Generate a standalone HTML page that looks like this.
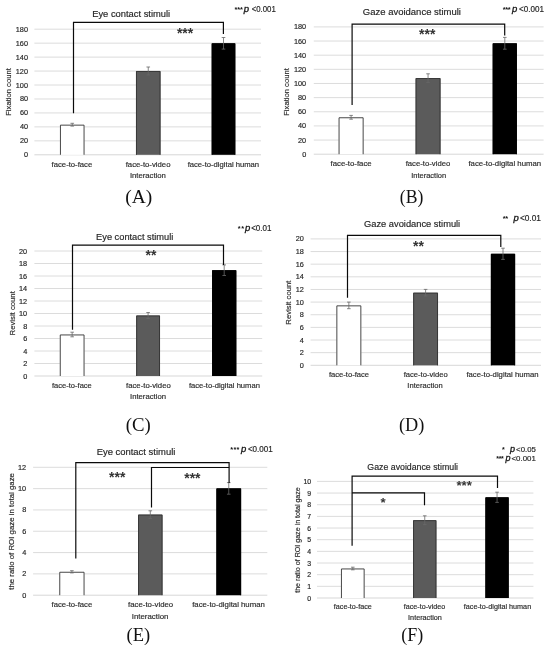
<!DOCTYPE html>
<html lang="en"><head><meta charset="utf-8"><title>Figure</title>
<style>
html,body{margin:0;padding:0;background:#fff;}
svg{display:block;font-family:"Liberation Sans", Arial, sans-serif;}
text{stroke:#333;stroke-width:0.18px;}
.ns,.ns tspan{stroke:none;}
</style></head><body>
<svg width="550" height="651" viewBox="0 0 550 651">
<rect width="550" height="651" fill="#ffffff"/>
<line x1="34.4" y1="154.80" x2="261" y2="154.80" stroke="#d2d2d2" stroke-width="0.9"/>
<text x="28" y="157.30" font-size="7.3" text-anchor="end" fill="#222">0</text>
<line x1="34.4" y1="140.84" x2="261" y2="140.84" stroke="#d8d8d8" stroke-width="0.9"/>
<text x="28" y="143.34" font-size="7.3" text-anchor="end" fill="#222">20</text>
<line x1="34.4" y1="126.89" x2="261" y2="126.89" stroke="#d8d8d8" stroke-width="0.9"/>
<text x="28" y="129.39" font-size="7.3" text-anchor="end" fill="#222">40</text>
<line x1="34.4" y1="112.93" x2="261" y2="112.93" stroke="#d8d8d8" stroke-width="0.9"/>
<text x="28" y="115.43" font-size="7.3" text-anchor="end" fill="#222">60</text>
<line x1="34.4" y1="98.98" x2="261" y2="98.98" stroke="#d8d8d8" stroke-width="0.9"/>
<text x="28" y="101.48" font-size="7.3" text-anchor="end" fill="#222">80</text>
<line x1="34.4" y1="85.02" x2="261" y2="85.02" stroke="#d8d8d8" stroke-width="0.9"/>
<text x="28" y="87.52" font-size="7.3" text-anchor="end" fill="#222">100</text>
<line x1="34.4" y1="71.07" x2="261" y2="71.07" stroke="#d8d8d8" stroke-width="0.9"/>
<text x="28" y="73.57" font-size="7.3" text-anchor="end" fill="#222">120</text>
<line x1="34.4" y1="57.11" x2="261" y2="57.11" stroke="#d8d8d8" stroke-width="0.9"/>
<text x="28" y="59.61" font-size="7.3" text-anchor="end" fill="#222">140</text>
<line x1="34.4" y1="43.16" x2="261" y2="43.16" stroke="#d8d8d8" stroke-width="0.9"/>
<text x="28" y="45.66" font-size="7.3" text-anchor="end" fill="#222">160</text>
<line x1="34.4" y1="29.20" x2="261" y2="29.20" stroke="#d8d8d8" stroke-width="0.9"/>
<text x="28" y="31.70" font-size="7.3" text-anchor="end" fill="#222">180</text>
<rect x="60.00" y="124.70" width="24.50" height="30.10" fill="#ffffff"/>
<path d="M60.45 154.80V125.15H84.05V154.80" fill="none" stroke="#333333" stroke-width="0.9"/>
<path d="M72.25 123.30V126.10M70.45 123.30H74.05M70.45 126.10H74.05" stroke="#686868" stroke-width="0.8" fill="none"/>
<rect x="136.00" y="71.00" width="24.50" height="83.80" fill="#5b5b5b"/>
<path d="M136.45 154.80V71.45H160.05V154.80" fill="none" stroke="#333333" stroke-width="0.9"/>
<path d="M148.25 67.00V75.00M146.45 67.00H150.05M146.45 75.00H150.05" stroke="#686868" stroke-width="0.8" fill="none"/>
<rect x="211.70" y="43.30" width="23.60" height="111.50" fill="#000000"/>
<path d="M212.15 154.80V43.75H234.85V154.80" fill="none" stroke="#000000" stroke-width="0.9"/>
<path d="M223.50 37.50V49.10M221.70 37.50H225.30M221.70 49.10H225.30" stroke="#686868" stroke-width="0.8" fill="none"/>
<path d="M73.5 113.2V22.3H223.4V34" stroke="#0a0a0a" stroke-width="1.2" fill="none" stroke-linejoin="miter"/>
<text x="185.1" y="37.6" font-size="14" text-anchor="middle" fill="#333" font-weight="bold" class="ns">***</text>
<text x="131.2" y="17.2" font-size="9.4" text-anchor="middle" fill="#222" textLength="78" lengthAdjust="spacingAndGlyphs">Eye contact stimuli</text>
<text x="71.9" y="166.7" font-size="7.7" text-anchor="middle" fill="#2a2a2a" textLength="40.6" lengthAdjust="spacingAndGlyphs">face-to-face</text>
<text x="148.1" y="166.7" font-size="7.7" text-anchor="middle" fill="#2a2a2a" textLength="44.8" lengthAdjust="spacingAndGlyphs">face-to-video</text>
<text x="223.4" y="166.7" font-size="7.7" text-anchor="middle" fill="#2a2a2a" textLength="71.5" lengthAdjust="spacingAndGlyphs">face-to-digital human</text>
<text x="147.9" y="177.9" font-size="7.7" text-anchor="middle" fill="#2a2a2a" textLength="36" lengthAdjust="spacingAndGlyphs">Interaction</text>
<text transform="translate(10.5 92) rotate(-90)" font-size="7.6" text-anchor="middle" fill="#2a2a2a" textLength="47.6" lengthAdjust="spacingAndGlyphs">Fixation count</text>
<text x="234.50" y="11.6" font-size="7.4" font-weight="bold" fill="#111" class="ns" textLength="8.30" lengthAdjust="spacing">***</text>
<text x="246.40" y="11.6" font-size="9.5" text-anchor="middle" font-style="italic" fill="#111" style="stroke:#111;stroke-width:0.3px">p</text>
<text x="251.70" y="11.6" font-size="8.2" fill="#222" textLength="24.10" lengthAdjust="spacingAndGlyphs">&lt;0.001</text>
<text x="138.7" y="202.6" font-size="18.8" text-anchor="middle" fill="#111" font-family='"Liberation Serif", "DejaVu Serif", serif' textLength="27" lengthAdjust="spacingAndGlyphs" class="ns">(A)</text>
<line x1="313.8" y1="154.20" x2="543.6" y2="154.20" stroke="#d2d2d2" stroke-width="0.9"/>
<text x="306.2" y="156.70" font-size="7.3" text-anchor="end" fill="#222">0</text>
<line x1="313.8" y1="140.06" x2="543.6" y2="140.06" stroke="#d8d8d8" stroke-width="0.9"/>
<text x="306.2" y="142.56" font-size="7.3" text-anchor="end" fill="#222">20</text>
<line x1="313.8" y1="125.91" x2="543.6" y2="125.91" stroke="#d8d8d8" stroke-width="0.9"/>
<text x="306.2" y="128.41" font-size="7.3" text-anchor="end" fill="#222">40</text>
<line x1="313.8" y1="111.77" x2="543.6" y2="111.77" stroke="#d8d8d8" stroke-width="0.9"/>
<text x="306.2" y="114.27" font-size="7.3" text-anchor="end" fill="#222">60</text>
<line x1="313.8" y1="97.62" x2="543.6" y2="97.62" stroke="#d8d8d8" stroke-width="0.9"/>
<text x="306.2" y="100.12" font-size="7.3" text-anchor="end" fill="#222">80</text>
<line x1="313.8" y1="83.48" x2="543.6" y2="83.48" stroke="#d8d8d8" stroke-width="0.9"/>
<text x="306.2" y="85.98" font-size="7.3" text-anchor="end" fill="#222">100</text>
<line x1="313.8" y1="69.33" x2="543.6" y2="69.33" stroke="#d8d8d8" stroke-width="0.9"/>
<text x="306.2" y="71.83" font-size="7.3" text-anchor="end" fill="#222">120</text>
<line x1="313.8" y1="55.19" x2="543.6" y2="55.19" stroke="#d8d8d8" stroke-width="0.9"/>
<text x="306.2" y="57.69" font-size="7.3" text-anchor="end" fill="#222">140</text>
<line x1="313.8" y1="41.04" x2="543.6" y2="41.04" stroke="#d8d8d8" stroke-width="0.9"/>
<text x="306.2" y="43.54" font-size="7.3" text-anchor="end" fill="#222">160</text>
<line x1="313.8" y1="26.90" x2="543.6" y2="26.90" stroke="#d8d8d8" stroke-width="0.9"/>
<text x="306.2" y="29.40" font-size="7.3" text-anchor="end" fill="#222">180</text>
<rect x="338.60" y="117.30" width="25.00" height="36.90" fill="#ffffff"/>
<path d="M339.05 154.20V117.75H363.15V154.20" fill="none" stroke="#333333" stroke-width="0.9"/>
<path d="M351.10 115.40V119.20M349.30 115.40H352.90M349.30 119.20H352.90" stroke="#686868" stroke-width="0.8" fill="none"/>
<rect x="415.60" y="78.10" width="24.90" height="76.10" fill="#5b5b5b"/>
<path d="M416.05 154.20V78.55H440.05V154.20" fill="none" stroke="#333333" stroke-width="0.9"/>
<path d="M428.05 73.80V82.40M426.25 73.80H429.85M426.25 82.40H429.85" stroke="#686868" stroke-width="0.8" fill="none"/>
<rect x="492.70" y="43.30" width="24.20" height="110.90" fill="#000000"/>
<path d="M493.15 154.20V43.75H516.45V154.20" fill="none" stroke="#000000" stroke-width="0.9"/>
<path d="M504.80 37.40V49.20M503.00 37.40H506.60M503.00 49.20H506.60" stroke="#686868" stroke-width="0.8" fill="none"/>
<path d="M352.1 105V24.2H504.7V35.6" stroke="#0a0a0a" stroke-width="1.2" fill="none" stroke-linejoin="miter"/>
<text x="427.2" y="39.2" font-size="14" text-anchor="middle" fill="#333" font-weight="bold" class="ns">***</text>
<text x="411.9" y="14.6" font-size="9.4" text-anchor="middle" fill="#222" textLength="98.1" lengthAdjust="spacingAndGlyphs">Gaze avoidance stimuli</text>
<text x="351.1" y="166.2" font-size="7.7" text-anchor="middle" fill="#2a2a2a" textLength="41.2" lengthAdjust="spacingAndGlyphs">face-to-face</text>
<text x="428" y="166.2" font-size="7.7" text-anchor="middle" fill="#2a2a2a" textLength="44.6" lengthAdjust="spacingAndGlyphs">face-to-video</text>
<text x="504.8" y="166.2" font-size="7.7" text-anchor="middle" fill="#2a2a2a" textLength="72.7" lengthAdjust="spacingAndGlyphs">face-to-digital human</text>
<text x="428.7" y="177.6" font-size="7.7" text-anchor="middle" fill="#2a2a2a" textLength="35" lengthAdjust="spacingAndGlyphs">Interaction</text>
<text transform="translate(288.8 92) rotate(-90)" font-size="7.6" text-anchor="middle" fill="#2a2a2a" textLength="47.6" lengthAdjust="spacingAndGlyphs">Fixation count</text>
<text x="502.70" y="11.5" font-size="7.4" font-weight="bold" fill="#111" class="ns" textLength="8.00" lengthAdjust="spacing">***</text>
<text x="514.75" y="11.5" font-size="9.5" text-anchor="middle" font-style="italic" fill="#111" style="stroke:#111;stroke-width:0.3px">p</text>
<text x="519.10" y="11.5" font-size="8.2" fill="#222" textLength="24.90" lengthAdjust="spacingAndGlyphs">&lt;0.001</text>
<text x="411.6" y="202.6" font-size="18.8" text-anchor="middle" fill="#111" font-family='"Liberation Serif", "DejaVu Serif", serif' textLength="23.5" lengthAdjust="spacingAndGlyphs" class="ns">(B)</text>
<line x1="34.4" y1="376.00" x2="262.2" y2="376.00" stroke="#d2d2d2" stroke-width="0.9"/>
<text x="27.2" y="378.50" font-size="7.3" text-anchor="end" fill="#222">0</text>
<line x1="34.4" y1="363.50" x2="262.2" y2="363.50" stroke="#d8d8d8" stroke-width="0.9"/>
<text x="27.2" y="366.00" font-size="7.3" text-anchor="end" fill="#222">2</text>
<line x1="34.4" y1="351.00" x2="262.2" y2="351.00" stroke="#d8d8d8" stroke-width="0.9"/>
<text x="27.2" y="353.50" font-size="7.3" text-anchor="end" fill="#222">4</text>
<line x1="34.4" y1="338.50" x2="262.2" y2="338.50" stroke="#d8d8d8" stroke-width="0.9"/>
<text x="27.2" y="341.00" font-size="7.3" text-anchor="end" fill="#222">6</text>
<line x1="34.4" y1="326.00" x2="262.2" y2="326.00" stroke="#d8d8d8" stroke-width="0.9"/>
<text x="27.2" y="328.50" font-size="7.3" text-anchor="end" fill="#222">8</text>
<line x1="34.4" y1="313.50" x2="262.2" y2="313.50" stroke="#d8d8d8" stroke-width="0.9"/>
<text x="27.2" y="316.00" font-size="7.3" text-anchor="end" fill="#222">10</text>
<line x1="34.4" y1="301.00" x2="262.2" y2="301.00" stroke="#d8d8d8" stroke-width="0.9"/>
<text x="27.2" y="303.50" font-size="7.3" text-anchor="end" fill="#222">12</text>
<line x1="34.4" y1="288.50" x2="262.2" y2="288.50" stroke="#d8d8d8" stroke-width="0.9"/>
<text x="27.2" y="291.00" font-size="7.3" text-anchor="end" fill="#222">14</text>
<line x1="34.4" y1="276.00" x2="262.2" y2="276.00" stroke="#d8d8d8" stroke-width="0.9"/>
<text x="27.2" y="278.50" font-size="7.3" text-anchor="end" fill="#222">16</text>
<line x1="34.4" y1="263.50" x2="262.2" y2="263.50" stroke="#d8d8d8" stroke-width="0.9"/>
<text x="27.2" y="266.00" font-size="7.3" text-anchor="end" fill="#222">18</text>
<line x1="34.4" y1="251.00" x2="262.2" y2="251.00" stroke="#d8d8d8" stroke-width="0.9"/>
<text x="27.2" y="253.50" font-size="7.3" text-anchor="end" fill="#222">20</text>
<rect x="59.80" y="334.50" width="24.70" height="41.50" fill="#ffffff"/>
<path d="M60.25 376.00V334.95H84.05V376.00" fill="none" stroke="#333333" stroke-width="0.9"/>
<path d="M72.15 332.20V336.80M70.35 332.20H73.95M70.35 336.80H73.95" stroke="#686868" stroke-width="0.8" fill="none"/>
<rect x="136.20" y="315.50" width="23.80" height="60.50" fill="#5b5b5b"/>
<path d="M136.65 376.00V315.95H159.55V376.00" fill="none" stroke="#333333" stroke-width="0.9"/>
<path d="M148.10 312.50V318.50M146.30 312.50H149.90M146.30 318.50H149.90" stroke="#686868" stroke-width="0.8" fill="none"/>
<rect x="212.10" y="270.20" width="24.20" height="105.80" fill="#000000"/>
<path d="M212.55 376.00V270.65H235.85V376.00" fill="none" stroke="#000000" stroke-width="0.9"/>
<path d="M224.20 264.90V275.50M222.40 264.90H226.00M222.40 275.50H226.00" stroke="#686868" stroke-width="0.8" fill="none"/>
<path d="M72.5 329.7V245.2H223.5V265" stroke="#0a0a0a" stroke-width="1.2" fill="none" stroke-linejoin="miter"/>
<text x="150.9" y="259.8" font-size="14" text-anchor="middle" fill="#333" font-weight="bold" class="ns">**</text>
<text x="134.7" y="239.5" font-size="9.3" text-anchor="middle" fill="#222" textLength="77.2" lengthAdjust="spacingAndGlyphs">Eye contact stimuli</text>
<text x="71.9" y="387.5" font-size="7.7" text-anchor="middle" fill="#2a2a2a" textLength="39.8" lengthAdjust="spacingAndGlyphs">face-to-face</text>
<text x="148.4" y="387.5" font-size="7.7" text-anchor="middle" fill="#2a2a2a" textLength="44.7" lengthAdjust="spacingAndGlyphs">face-to-video</text>
<text x="224.4" y="387.5" font-size="7.7" text-anchor="middle" fill="#2a2a2a" textLength="71" lengthAdjust="spacingAndGlyphs">face-to-digital human</text>
<text x="148" y="398.6" font-size="7.7" text-anchor="middle" fill="#2a2a2a" textLength="36" lengthAdjust="spacingAndGlyphs">Interaction</text>
<text transform="translate(15 313.3) rotate(-90)" font-size="7.6" text-anchor="middle" fill="#2a2a2a" textLength="44.2" lengthAdjust="spacingAndGlyphs">Revisit count</text>
<text x="237.80" y="231" font-size="7.4" font-weight="bold" fill="#111" class="ns" textLength="6.30" lengthAdjust="spacing">**</text>
<text x="247.65" y="231" font-size="9.5" text-anchor="middle" font-style="italic" fill="#111" style="stroke:#111;stroke-width:0.3px">p</text>
<text x="251.20" y="231" font-size="8.2" fill="#222" textLength="20.30" lengthAdjust="spacingAndGlyphs">&lt;0.01</text>
<text x="138.2" y="431" font-size="18.8" text-anchor="middle" fill="#111" font-family='"Liberation Serif", "DejaVu Serif", serif' textLength="25" lengthAdjust="spacingAndGlyphs" class="ns">(C)</text>
<line x1="310.6" y1="365.30" x2="541" y2="365.30" stroke="#d2d2d2" stroke-width="0.9"/>
<text x="303.8" y="367.80" font-size="7.3" text-anchor="end" fill="#222">0</text>
<line x1="310.6" y1="352.66" x2="541" y2="352.66" stroke="#d8d8d8" stroke-width="0.9"/>
<text x="303.8" y="355.16" font-size="7.3" text-anchor="end" fill="#222">2</text>
<line x1="310.6" y1="340.02" x2="541" y2="340.02" stroke="#d8d8d8" stroke-width="0.9"/>
<text x="303.8" y="342.52" font-size="7.3" text-anchor="end" fill="#222">4</text>
<line x1="310.6" y1="327.38" x2="541" y2="327.38" stroke="#d8d8d8" stroke-width="0.9"/>
<text x="303.8" y="329.88" font-size="7.3" text-anchor="end" fill="#222">6</text>
<line x1="310.6" y1="314.74" x2="541" y2="314.74" stroke="#d8d8d8" stroke-width="0.9"/>
<text x="303.8" y="317.24" font-size="7.3" text-anchor="end" fill="#222">8</text>
<line x1="310.6" y1="302.10" x2="541" y2="302.10" stroke="#d8d8d8" stroke-width="0.9"/>
<text x="303.8" y="304.60" font-size="7.3" text-anchor="end" fill="#222">10</text>
<line x1="310.6" y1="289.46" x2="541" y2="289.46" stroke="#d8d8d8" stroke-width="0.9"/>
<text x="303.8" y="291.96" font-size="7.3" text-anchor="end" fill="#222">12</text>
<line x1="310.6" y1="276.82" x2="541" y2="276.82" stroke="#d8d8d8" stroke-width="0.9"/>
<text x="303.8" y="279.32" font-size="7.3" text-anchor="end" fill="#222">14</text>
<line x1="310.6" y1="264.18" x2="541" y2="264.18" stroke="#d8d8d8" stroke-width="0.9"/>
<text x="303.8" y="266.68" font-size="7.3" text-anchor="end" fill="#222">16</text>
<line x1="310.6" y1="251.54" x2="541" y2="251.54" stroke="#d8d8d8" stroke-width="0.9"/>
<text x="303.8" y="254.04" font-size="7.3" text-anchor="end" fill="#222">18</text>
<line x1="310.6" y1="238.90" x2="541" y2="238.90" stroke="#d8d8d8" stroke-width="0.9"/>
<text x="303.8" y="241.40" font-size="7.3" text-anchor="end" fill="#222">20</text>
<rect x="336.40" y="305.40" width="24.90" height="59.90" fill="#ffffff"/>
<path d="M336.85 365.30V305.85H360.85V365.30" fill="none" stroke="#333333" stroke-width="0.9"/>
<path d="M348.85 302.10V308.70M347.05 302.10H350.65M347.05 308.70H350.65" stroke="#686868" stroke-width="0.8" fill="none"/>
<rect x="413.20" y="292.70" width="24.80" height="72.60" fill="#5b5b5b"/>
<path d="M413.65 365.30V293.15H437.55V365.30" fill="none" stroke="#333333" stroke-width="0.9"/>
<path d="M425.60 289.40V296.00M423.80 289.40H427.40M423.80 296.00H427.40" stroke="#686868" stroke-width="0.8" fill="none"/>
<rect x="490.90" y="253.80" width="24.20" height="111.50" fill="#000000"/>
<path d="M491.35 365.30V254.25H514.65V365.30" fill="none" stroke="#000000" stroke-width="0.9"/>
<path d="M503.00 248.20V259.40M501.20 248.20H504.80M501.20 259.40H504.80" stroke="#686868" stroke-width="0.8" fill="none"/>
<path d="M347.5 297.8V235.4H500.8V247" stroke="#0a0a0a" stroke-width="1.2" fill="none" stroke-linejoin="miter"/>
<text x="418.5" y="251" font-size="14" text-anchor="middle" fill="#333" font-weight="bold" class="ns">**</text>
<text x="412.1" y="227" font-size="9.3" text-anchor="middle" fill="#222" textLength="96.2" lengthAdjust="spacingAndGlyphs">Gaze avoidance stimuli</text>
<text x="349" y="377" font-size="7.7" text-anchor="middle" fill="#2a2a2a" textLength="40.2" lengthAdjust="spacingAndGlyphs">face-to-face</text>
<text x="425.7" y="377" font-size="7.7" text-anchor="middle" fill="#2a2a2a" textLength="44" lengthAdjust="spacingAndGlyphs">face-to-video</text>
<text x="502.5" y="377" font-size="7.7" text-anchor="middle" fill="#2a2a2a" textLength="72.2" lengthAdjust="spacingAndGlyphs">face-to-digital human</text>
<text x="425" y="388" font-size="7.7" text-anchor="middle" fill="#2a2a2a" textLength="35.3" lengthAdjust="spacingAndGlyphs">Interaction</text>
<text transform="translate(290.8 302.6) rotate(-90)" font-size="7.6" text-anchor="middle" fill="#2a2a2a" textLength="44.2" lengthAdjust="spacingAndGlyphs">Revisit count</text>
<text x="502.70" y="220.7" font-size="7.4" font-weight="bold" fill="#111" class="ns" textLength="5.50" lengthAdjust="spacing">**</text>
<text x="516.05" y="220.7" font-size="9.5" text-anchor="middle" font-style="italic" fill="#111" style="stroke:#111;stroke-width:0.3px">p</text>
<text x="519.90" y="220.7" font-size="8.2" fill="#222" textLength="21.00" lengthAdjust="spacingAndGlyphs">&lt;0.01</text>
<text x="411.6" y="431" font-size="18.8" text-anchor="middle" fill="#111" font-family='"Liberation Serif", "DejaVu Serif", serif' textLength="25.4" lengthAdjust="spacingAndGlyphs" class="ns">(D)</text>
<line x1="33.1" y1="595.20" x2="267.3" y2="595.20" stroke="#d2d2d2" stroke-width="0.9"/>
<text x="26.2" y="597.70" font-size="7.3" text-anchor="end" fill="#222">0</text>
<line x1="33.1" y1="573.88" x2="267.3" y2="573.88" stroke="#d8d8d8" stroke-width="0.9"/>
<text x="26.2" y="576.38" font-size="7.3" text-anchor="end" fill="#222">2</text>
<line x1="33.1" y1="552.57" x2="267.3" y2="552.57" stroke="#d8d8d8" stroke-width="0.9"/>
<text x="26.2" y="555.07" font-size="7.3" text-anchor="end" fill="#222">4</text>
<line x1="33.1" y1="531.25" x2="267.3" y2="531.25" stroke="#d8d8d8" stroke-width="0.9"/>
<text x="26.2" y="533.75" font-size="7.3" text-anchor="end" fill="#222">6</text>
<line x1="33.1" y1="509.93" x2="267.3" y2="509.93" stroke="#d8d8d8" stroke-width="0.9"/>
<text x="26.2" y="512.43" font-size="7.3" text-anchor="end" fill="#222">8</text>
<line x1="33.1" y1="488.62" x2="267.3" y2="488.62" stroke="#d8d8d8" stroke-width="0.9"/>
<text x="26.2" y="491.12" font-size="7.3" text-anchor="end" fill="#222">10</text>
<line x1="33.1" y1="467.30" x2="267.3" y2="467.30" stroke="#d8d8d8" stroke-width="0.9"/>
<text x="26.2" y="469.80" font-size="7.3" text-anchor="end" fill="#222">12</text>
<rect x="59.30" y="571.80" width="25.20" height="23.40" fill="#ffffff"/>
<path d="M59.75 595.20V572.25H84.05V595.20" fill="none" stroke="#333333" stroke-width="0.9"/>
<path d="M71.90 570.70V572.90M70.10 570.70H73.70M70.10 572.90H73.70" stroke="#686868" stroke-width="0.8" fill="none"/>
<rect x="138.10" y="514.60" width="24.40" height="80.60" fill="#5b5b5b"/>
<path d="M138.55 595.20V515.05H162.05V595.20" fill="none" stroke="#333333" stroke-width="0.9"/>
<path d="M150.30 510.80V518.40M148.50 510.80H152.10M148.50 518.40H152.10" stroke="#686868" stroke-width="0.8" fill="none"/>
<rect x="216.40" y="488.40" width="24.70" height="106.80" fill="#000000"/>
<path d="M216.85 595.20V488.85H240.65V595.20" fill="none" stroke="#000000" stroke-width="0.9"/>
<path d="M228.75 482.60V494.20M226.95 482.60H230.55M226.95 494.20H230.55" stroke="#686868" stroke-width="0.8" fill="none"/>
<path d="M75.8 558.6V462.6H229.1V483" stroke="#0a0a0a" stroke-width="1.2" fill="none" stroke-linejoin="miter"/>
<path d="M151.5 507.5V467.5H229.1" stroke="#0a0a0a" stroke-width="1.2" fill="none" stroke-linejoin="miter"/>
<text x="117.2" y="482.3" font-size="14" text-anchor="middle" fill="#333" font-weight="bold" class="ns">***</text>
<text x="192.4" y="483.1" font-size="14" text-anchor="middle" fill="#333" font-weight="bold" class="ns">***</text>
<text x="136" y="455.4" font-size="9.4" text-anchor="middle" fill="#222" textLength="78.7" lengthAdjust="spacingAndGlyphs">Eye contact stimuli</text>
<text x="71.9" y="607" font-size="7.7" text-anchor="middle" fill="#2a2a2a" textLength="40.6" lengthAdjust="spacingAndGlyphs">face-to-face</text>
<text x="150.6" y="607" font-size="7.7" text-anchor="middle" fill="#2a2a2a" textLength="45.2" lengthAdjust="spacingAndGlyphs">face-to-video</text>
<text x="228.5" y="607" font-size="7.7" text-anchor="middle" fill="#2a2a2a" textLength="72.7" lengthAdjust="spacingAndGlyphs">face-to-digital human</text>
<text x="150.1" y="618.8" font-size="7.7" text-anchor="middle" fill="#2a2a2a" textLength="36.8" lengthAdjust="spacingAndGlyphs">Interaction</text>
<text transform="translate(13.9 531.4) rotate(-90)" font-size="7.7" text-anchor="middle" fill="#2a2a2a" textLength="116.6" lengthAdjust="spacingAndGlyphs">the ratio of ROI gaze in total gaze</text>
<text x="230.20" y="452.3" font-size="7.4" font-weight="bold" fill="#111" class="ns" textLength="9.30" lengthAdjust="spacing">***</text>
<text x="243.60" y="452.3" font-size="9.5" text-anchor="middle" font-style="italic" fill="#111" style="stroke:#111;stroke-width:0.3px">p</text>
<text x="247.90" y="452.3" font-size="8.2" fill="#222" textLength="24.90" lengthAdjust="spacingAndGlyphs">&lt;0.001</text>
<text x="138.3" y="641.3" font-size="18.8" text-anchor="middle" fill="#111" font-family='"Liberation Serif", "DejaVu Serif", serif' textLength="23.6" lengthAdjust="spacingAndGlyphs" class="ns">(E)</text>
<line x1="317" y1="598.00" x2="533.4" y2="598.00" stroke="#d2d2d2" stroke-width="0.9"/>
<text x="311.2" y="600.50" font-size="6.9" text-anchor="end" fill="#222">0</text>
<line x1="317" y1="586.34" x2="533.4" y2="586.34" stroke="#d8d8d8" stroke-width="0.9"/>
<text x="311.2" y="588.84" font-size="6.9" text-anchor="end" fill="#222">1</text>
<line x1="317" y1="574.68" x2="533.4" y2="574.68" stroke="#d8d8d8" stroke-width="0.9"/>
<text x="311.2" y="577.18" font-size="6.9" text-anchor="end" fill="#222">2</text>
<line x1="317" y1="563.02" x2="533.4" y2="563.02" stroke="#d8d8d8" stroke-width="0.9"/>
<text x="311.2" y="565.52" font-size="6.9" text-anchor="end" fill="#222">3</text>
<line x1="317" y1="551.36" x2="533.4" y2="551.36" stroke="#d8d8d8" stroke-width="0.9"/>
<text x="311.2" y="553.86" font-size="6.9" text-anchor="end" fill="#222">4</text>
<line x1="317" y1="539.70" x2="533.4" y2="539.70" stroke="#d8d8d8" stroke-width="0.9"/>
<text x="311.2" y="542.20" font-size="6.9" text-anchor="end" fill="#222">5</text>
<line x1="317" y1="528.04" x2="533.4" y2="528.04" stroke="#d8d8d8" stroke-width="0.9"/>
<text x="311.2" y="530.54" font-size="6.9" text-anchor="end" fill="#222">6</text>
<line x1="317" y1="516.38" x2="533.4" y2="516.38" stroke="#d8d8d8" stroke-width="0.9"/>
<text x="311.2" y="518.88" font-size="6.9" text-anchor="end" fill="#222">7</text>
<line x1="317" y1="504.72" x2="533.4" y2="504.72" stroke="#d8d8d8" stroke-width="0.9"/>
<text x="311.2" y="507.22" font-size="6.9" text-anchor="end" fill="#222">8</text>
<line x1="317" y1="493.06" x2="533.4" y2="493.06" stroke="#d8d8d8" stroke-width="0.9"/>
<text x="311.2" y="495.56" font-size="6.9" text-anchor="end" fill="#222">9</text>
<line x1="317" y1="481.40" x2="533.4" y2="481.40" stroke="#d8d8d8" stroke-width="0.9"/>
<text x="311.2" y="483.90" font-size="6.9" text-anchor="end" fill="#222">10</text>
<rect x="341.00" y="568.50" width="23.60" height="29.50" fill="#ffffff"/>
<path d="M341.45 598.00V568.95H364.15V598.00" fill="none" stroke="#333333" stroke-width="0.9"/>
<path d="M352.80 567.20V569.80M351.00 567.20H354.60M351.00 569.80H354.60" stroke="#686868" stroke-width="0.8" fill="none"/>
<rect x="413.10" y="520.20" width="23.30" height="77.80" fill="#5b5b5b"/>
<path d="M413.55 598.00V520.65H435.95V598.00" fill="none" stroke="#333333" stroke-width="0.9"/>
<path d="M424.75 515.80V524.60M422.95 515.80H426.55M422.95 524.60H426.55" stroke="#686868" stroke-width="0.8" fill="none"/>
<rect x="485.40" y="497.30" width="23.30" height="100.70" fill="#000000"/>
<path d="M485.85 598.00V497.75H508.25V598.00" fill="none" stroke="#000000" stroke-width="0.9"/>
<path d="M497.05 492.20V502.40M495.25 492.20H498.85M495.25 502.40H498.85" stroke="#686868" stroke-width="0.8" fill="none"/>
<path d="M352.1 545.8V476.2H497.5V488" stroke="#0a0a0a" stroke-width="1.2" fill="none" stroke-linejoin="miter"/>
<path d="M352.1 492.9H424.5V505.2" stroke="#0a0a0a" stroke-width="1.2" fill="none" stroke-linejoin="miter"/>
<text x="383" y="506.6" font-size="13.2" text-anchor="middle" fill="#333" font-weight="bold" class="ns">*</text>
<text x="464.2" y="489.8" font-size="13.2" text-anchor="middle" fill="#333" font-weight="bold" class="ns">***</text>
<text x="412.7" y="470.3" font-size="8.8" text-anchor="middle" fill="#222" textLength="90.7" lengthAdjust="spacingAndGlyphs">Gaze avoidance stimuli</text>
<text x="352.8" y="608.6" font-size="7.2" text-anchor="middle" fill="#2a2a2a" textLength="38" lengthAdjust="spacingAndGlyphs">face-to-face</text>
<text x="424.5" y="608.6" font-size="7.2" text-anchor="middle" fill="#2a2a2a" textLength="41.3" lengthAdjust="spacingAndGlyphs">face-to-video</text>
<text x="497.5" y="608.6" font-size="7.2" text-anchor="middle" fill="#2a2a2a" textLength="67.3" lengthAdjust="spacingAndGlyphs">face-to-digital human</text>
<text x="425" y="619.6" font-size="7.2" text-anchor="middle" fill="#2a2a2a" textLength="33.8" lengthAdjust="spacingAndGlyphs">Interaction</text>
<text transform="translate(299.7 540) rotate(-90)" font-size="7.1" text-anchor="middle" fill="#2a2a2a" textLength="105.6" lengthAdjust="spacingAndGlyphs">the ratio of ROI gaze in total gaze</text>
<text x="502.10" y="451.5" font-size="7.0" font-weight="bold" fill="#111" class="ns" textLength="3.40" lengthAdjust="spacing">*</text>
<text x="512.60" y="451.5" font-size="9.0" text-anchor="middle" font-style="italic" fill="#111" style="stroke:#111;stroke-width:0.3px">p</text>
<text x="516.10" y="451.5" font-size="7.8" fill="#222" textLength="19.70" lengthAdjust="spacingAndGlyphs">&lt;0.05</text>
<text x="496.30" y="460.9" font-size="7.0" font-weight="bold" fill="#111" class="ns" textLength="7.50" lengthAdjust="spacing">***</text>
<text x="508.00" y="460.9" font-size="9.0" text-anchor="middle" font-style="italic" fill="#111" style="stroke:#111;stroke-width:0.3px">p</text>
<text x="511.50" y="460.9" font-size="7.8" fill="#222" textLength="24.30" lengthAdjust="spacingAndGlyphs">&lt;0.001</text>
<text x="412.2" y="641.3" font-size="18.8" text-anchor="middle" fill="#111" font-family='"Liberation Serif", "DejaVu Serif", serif' textLength="22" lengthAdjust="spacingAndGlyphs" class="ns">(F)</text>
</svg>
</body></html>
